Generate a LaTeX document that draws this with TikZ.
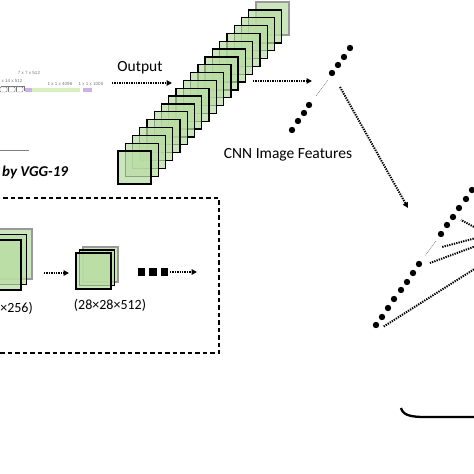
\documentclass[tikz,border=0pt]{standalone}
\usepackage{fontspec}
\setmainfont{Carlito}
\newfontfamily\smallf{Liberation Sans}
\usetikzlibrary{arrows.meta}
\definecolor{sqgreen}{RGB}{186,220,165}
\definecolor{minigreen}{RGB}{215,240,190}
\definecolor{minipurple}{RGB}{205,175,235}
\definecolor{minigray}{RGB}{120,120,120}
\begin{document}
\begin{tikzpicture}[x=1pt,y=-1pt,
  sq/.style={fill=sqgreen,fill opacity=0.75,draw=black,line width=1.3pt},
  sqback/.style={fill=sqgreen,fill opacity=0.75,draw=gray!80,line width=1.3pt},
  dotarrow/.style={line width=2pt,dash pattern=on 1.3pt off 1.1pt,-{Triangle[length=5.5pt,width=5.5pt]}},
  dotline/.style={line width=2pt,dash pattern=on 1.3pt off 1.1pt},
  thindot/.style={line width=0.6pt,draw=gray,dash pattern=on 0.9pt off 0.8pt},
  fdot/.style={circle,fill=black,inner sep=0pt,minimum size=6.4pt},
  lbl/.style={inner sep=0pt,font=\fontsize{15.5}{17}\selectfont},
  dimlbl/.style={inner sep=0pt,font=\fontsize{14}{16}\selectfont},
  tiny/.style={inner sep=0pt,text=minigray,font=\smallf\fontsize{4.5}{5}\selectfont},
  blk/.style={fill=black,inner sep=0pt,minimum size=7.5pt}]
\useasboundingbox (0,0) rectangle (474,474);
\clip (0,0) rectangle (474,474);

% ---- mini VGG network (top left) ----
\foreach \xx in {0,8,16}{
  \draw[minigray,line width=0.4pt,rounded corners=1pt] (\xx,87) rectangle ++(7,5);
  \draw[minigray,line width=0.3pt] (\xx+1,86) -- (\xx+8,86) -- (\xx+8,91);
}
\fill[minipurple] (25,88) rectangle (32,91.5);
\fill[minigreen] (32,88) rectangle (80,91.5);
\fill[minipurple] (83,88) rectangle (92,91.5);
\node[tiny] (l14) at (12,81) {x 14 x 512};
\node[tiny] (l7) at (29,73) {7 x 7 x 512};
\node[tiny] (l4096) at (60,84) {1 x 1 x 4096};
\node[tiny] (l1000) at (91,84) {1 x 1 x 1000};
\draw[gray,line width=0.8pt] (0,150) -- (29,150);
\node[anchor=west,inner sep=0pt,font=\fontsize{15}{17}\selectfont\bfseries\itshape] (vgg) at (2,172) {by VGG-19};

% ---- output arrow ----
\node[lbl] (out) at (140,68) {Output};
\coordinate (o1) at (112,83);
\coordinate (o2) at (172,83);
\draw[dotarrow] (o1) -- (o2);

% ---- big stack of feature maps ----
\foreach \i in {19,18,...,0}{
  \ifnum\i=19
    \draw[sqback] (118+\i*7.26,151-\i*7.84) rectangle ++(33,33);
  \else
    \draw[sq] (118+\i*7.26,151-\i*7.84) rectangle ++(33,33);
  \fi
}

% ---- arrow to features ----
\coordinate (s1) at (253,81);
\coordinate (s2) at (312,81);
\draw[dotarrow] (s1) -- (s2);

% ---- CNN image feature vector ----
\node[fdot] (f1) at (350,48) {};
\node[fdot] (f2) at (344,57) {};
\node[fdot] (f3) at (338,65) {};
\node[fdot] (f4) at (332,73) {};
\node[fdot] (f5) at (309,105) {};
\node[fdot] (f6) at (304,113) {};
\node[fdot] (f7) at (298,121) {};
\node[fdot] (f8) at (292,130) {};
\coordinate (g1) at (328,80);
\coordinate (g2) at (316,96);
\draw[thindot] (g1) -- (g2);
\node[lbl] (cnn) at (288,155) {CNN Image Features};

\coordinate (a1) at (340,87);
\coordinate (a2) at (408,208);
\draw[dotarrow] (a1) -- (a2);

% ---- right-hand vector ----
\foreach \n/\px/\py in {r1/472/190,r2/466/199,r3/459/208,r4/453/217,r5/447/225,r6/441/234,
  r7/419/264,r8/413/273,r9/407/282,r10/401/290,r11/394/299,r12/388/308,r13/382/317,r14/376/325}{
  \node[fdot] (\n) at (\px,\py) {};
}
\coordinate (h1) at (436,241);
\coordinate (h2) at (425,256);
\draw[thindot] (h1) -- (h2);

\coordinate (e1) at (476,228);
\coordinate (e2) at (476,238);
\coordinate (e3) at (476,246);
\coordinate (e4) at (476,268);
\coordinate (k1) at (461,220);
\coordinate (k2) at (442,247);
\coordinate (k3) at (430,263);
\coordinate (k4) at (383,327);
\draw[dotline] (e1) -- (k1);
\draw[dotline] (e2) -- (k2);
\draw[dotline] (e3) -- (k3);
\draw[dotline] (e4) -- (k4);

% ---- bottom bracket curve ----
\coordinate (c1) at (401,408);
\coordinate (c2) at (476,417);
\draw[line width=2.3pt] (c1) .. controls (403,415) and (410,417) .. (425,417) -- (c2);

% ---- dashed box with VGG layers ----
\draw[line width=1.4pt,dash pattern=on 4.5pt off 3pt] (-10,198) rectangle (219,353);
\draw[sqback] (-18,229) rectangle (32,279);
\draw[sq] (-23.5,234.5) rectangle (26.5,284.5);
\draw[sq] (-29,240) rectangle (21,290);
\node[dimlbl,anchor=east] (d1) at (33,308) {(56×56×256)};

\coordinate (b1) at (44,273);
\coordinate (b2) at (69,273);
\draw[dotarrow] (b1) -- (b2);

\draw[sqback] (83,247) rectangle (118,282);
\draw[sq] (79.5,250) rectangle (114.5,285.5);
\draw[sq] (76,253) rectangle (111,289);
\node[dimlbl] (d2) at (110,305) {(28×28×512)};

\node[blk] (q1) at (141.5,272) {};
\node[blk] (q2) at (153,272) {};
\node[blk] (q3) at (164.5,272) {};
\coordinate (t1) at (170,272);
\coordinate (t2) at (197,272);
\draw[dotarrow] (t1) -- (t2);
\end{tikzpicture}
\end{document}
